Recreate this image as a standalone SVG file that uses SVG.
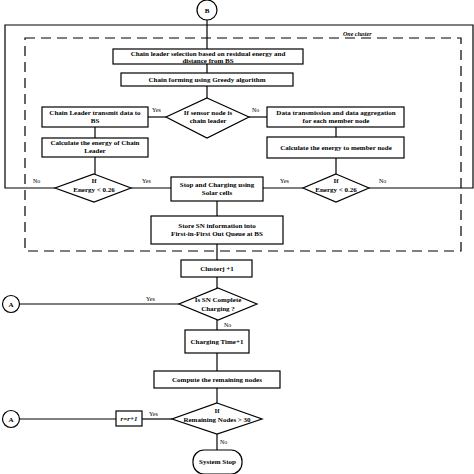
<svg xmlns="http://www.w3.org/2000/svg" width="474" height="474" viewBox="0 0 474 474">
<style>
.b{fill:#fff;stroke:#000;stroke-width:1.2}
.l{fill:none;stroke:#000;stroke-width:1.2}
.d{fill:none;stroke:#000;stroke-width:1.2;stroke-dasharray:10 6}
.t{font-family:"Liberation Serif",serif;font-weight:bold;font-size:7px;text-anchor:middle;fill:#000}
.s{font-family:"Liberation Serif",serif;font-size:6px;fill:#000}
</style>
<rect width="474" height="474" fill="#fff"/>
<g id="connectors">
<polyline class="l" points="55,188 5,188 5,25 473,25 473,188 369,188"/>
<rect class="d" x="25" y="38" width="436" height="213"/>
<line class="l" x1="207" y1="20" x2="207" y2="49"/>
<line class="l" x1="207" y1="64" x2="207" y2="73"/>
<line class="l" x1="207" y1="86" x2="207" y2="98"/>
<line class="l" x1="166" y1="117" x2="148" y2="117"/>
<line class="l" x1="249" y1="117" x2="267" y2="117"/>
<line class="l" x1="95" y1="127" x2="95" y2="138"/>
<line class="l" x1="95" y1="157" x2="95" y2="174"/>
<line class="l" x1="336" y1="127" x2="336" y2="137"/>
<line class="l" x1="336" y1="158" x2="336" y2="174"/>
<line class="l" x1="131" y1="188" x2="171" y2="188"/>
<line class="l" x1="303" y1="188" x2="263" y2="188"/>
<line class="l" x1="217" y1="201" x2="217" y2="216"/>
<line class="l" x1="217" y1="244" x2="217" y2="260"/>
<line class="l" x1="217" y1="277" x2="217" y2="288"/>
<line class="l" x1="19" y1="304" x2="179" y2="304"/>
<line class="l" x1="217" y1="320" x2="217" y2="330"/>
<line class="l" x1="217" y1="353" x2="217" y2="371"/>
<line class="l" x1="217" y1="388" x2="217" y2="403"/>
<line class="l" x1="19" y1="419" x2="116" y2="419"/>
<line class="l" x1="142" y1="419" x2="172" y2="419"/>
<line class="l" x1="217" y1="434" x2="217" y2="450"/>
<text class="s" x="343" y="36" style="font-weight:bold;font-style:italic">One cluster</text>
<text class="s" x="152" y="112">Yes</text>
<text class="s" x="252" y="112">No</text>
<text class="s" x="33" y="183">No</text>
<text class="s" x="142" y="183">Yes</text>
<text class="s" x="280" y="183">Yes</text>
<text class="s" x="379" y="183">No</text>
<text class="s" x="146" y="301">Yes</text>
<text class="s" x="224" y="327">No</text>
<text class="s" x="149" y="416">Yes</text>
<text class="s" x="220" y="444">No</text>
</g>
<g id="B"><circle class="b" cx="207" cy="10" r="10"/><text class="t" x="207" y="12.5">B</text></g>
<g id="leaderSel"><rect class="b" x="113" y="49" width="190" height="15"/><text class="t" x="208" y="55.5">Chain leader selection based on residual energy and</text><text class="t" x="208" y="62.5">distance from BS</text></g>
<g id="chainForm"><rect class="b" x="121" y="73" width="172" height="13"/><text class="t" x="207" y="81.8">Chain forming using Greedy algorithm</text></g>
<g id="isLeader"><polygon class="b" points="207,98 249,117 207,138 166,117"/><text class="t" x="208" y="115">If sensor node is</text><text class="t" x="208" y="123">chain leader</text></g>
<g id="clTransmit"><rect class="b" x="42" y="107" width="106" height="20"/><text class="t" x="95" y="115">Chain Leader transmit data to</text><text class="t" x="95" y="123">BS</text></g>
<g id="clEnergy"><rect class="b" x="42" y="138" width="106" height="19"/><text class="t" x="95" y="145">Calculate the energy of Chain</text><text class="t" x="95" y="153">Leader</text></g>
<g id="dataTx"><rect class="b" x="267" y="107" width="137" height="20"/><text class="t" x="336" y="115">Data transmission and data aggregation</text><text class="t" x="336" y="123">for each member node</text></g>
<g id="memEnergy"><rect class="b" x="267" y="137" width="137" height="21"/><text class="t" x="336" y="150">Calculate the energy to member node</text></g>
<g id="energyL"><polygon class="b" points="94,174 131,188 94,202 55,188"/><text class="t" x="94" y="183">If</text><text class="t" x="94" y="192">Energy &lt; 0.26</text></g>
<g id="energyR"><polygon class="b" points="336,174 369,188 336,202 303,188"/><text class="t" x="336" y="183">If</text><text class="t" x="336" y="192">Energy &lt; 0.26</text></g>
<g id="stopCharge"><rect class="b" x="171" y="177" width="92" height="24"/><text class="t" x="217" y="187">Stop and Charging using</text><text class="t" x="217" y="195">Solar cells</text></g>
<g id="store"><rect class="b" x="151" y="216" width="132" height="28"/><text class="t" x="217" y="228">Store SN information into</text><text class="t" x="217" y="236">First-in-First Out Queue at BS</text></g>
<g id="cluster"><rect class="b" x="181" y="260" width="71" height="17"/><text class="t" x="217" y="270.5">Clusterj +1</text></g>
<g id="complete"><polygon class="b" points="218,288 257,304 218,320 179,304"/><text class="t" x="218" y="302">Is SN Complete</text><text class="t" x="218" y="311">Charging ?</text></g>
<g id="A1"><circle class="b" cx="11" cy="304" r="8.5"/><text class="t" x="11" y="306.5">A</text></g>
<g id="chargeTime"><rect class="b" x="185" y="330" width="64" height="23"/><text class="t" x="217" y="344">Charging Time+1</text></g>
<g id="compute"><rect class="b" x="154" y="371" width="126" height="17"/><text class="t" x="217" y="381.5">Compute the remaining nodes</text></g>
<g id="remaining"><polygon class="b" points="217,403 262,419 217,434 172,419"/><text class="t" x="217" y="413">If</text><text class="t" x="217" y="422">Remaining Nodes &gt; 30</text></g>
<g id="rInc"><rect class="b" x="116" y="411" width="26" height="15"/><text class="t" x="129" y="421" style="font-style:italic">r=r+1</text></g>
<g id="A2"><circle class="b" cx="11" cy="419" r="8.5"/><text class="t" x="11" y="421.5">A</text></g>
<g id="sysStop"><rect class="b" x="193" y="450" width="49" height="24" rx="11" ry="11"/><text class="t" x="217.5" y="464">System Stop</text></g>
</svg>
